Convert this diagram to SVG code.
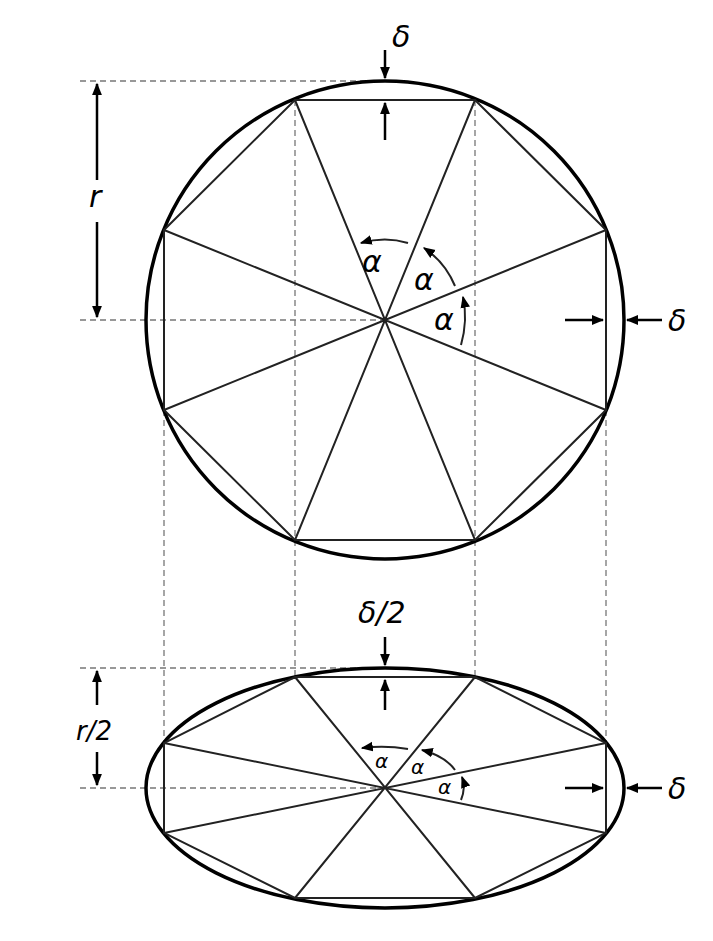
<svg xmlns="http://www.w3.org/2000/svg" width="713" height="941" viewBox="0 0 713 941">
<style>
.d{stroke:#777;stroke-width:1.3;stroke-dasharray:6,4;fill:none}
.l{stroke:#222;stroke-width:2;fill:none}
.o{stroke:#000;stroke-width:3.5;fill:none}
.a{stroke:#000;stroke-width:2.5;fill:none}
.t{font-family:"DejaVu Sans",sans-serif;font-style:italic;fill:#000}
</style>
<defs>
<marker id="ah" viewBox="0 0 10 10" refX="9" refY="5" markerWidth="5" markerHeight="5" orient="auto-start-reverse" markerUnits="strokeWidth"><path d="M0,1 L10,5 L0,9 z" fill="#000"/></marker>
<marker id="sh" viewBox="0 0 10 10" refX="9" refY="5" markerWidth="6" markerHeight="6" orient="auto" markerUnits="strokeWidth"><path d="M0,1 L10,5 L0,9 z" fill="#000"/></marker>
</defs>
<g id="guides">
<line class="d" x1="80" y1="81" x2="385" y2="81"/>
<line class="d" x1="80" y1="320" x2="385" y2="320"/>
<line class="d" x1="80" y1="668" x2="385" y2="668"/>
<line class="d" x1="80" y1="788" x2="385" y2="788"/>
<line class="d" x1="164" y1="230" x2="164" y2="743"/>
<line class="d" x1="295" y1="100" x2="295" y2="677"/>
<line class="d" x1="475" y1="100" x2="475" y2="677"/>
<line class="d" x1="606" y1="230" x2="606" y2="743"/>
</g>
<g id="circle">
<circle class="o" cx="385" cy="320" r="239"/>
<polygon class="l" points="295,100 475,100 606,230 606,410 475,540 295,540 164,410 164,230"/>
<path class="l" d="M295,100 L475,540 M475,100 L295,540 M164,230 L606,410 M606,230 L164,410"/>
</g>
<g id="ellipse">
<ellipse class="o" cx="385" cy="788" rx="239" ry="120"/>
<polygon class="l" points="295,677 475,677 606,743 606,833 475,898 295,898 164,833 164,743"/>
<path class="l" d="M295,677 L475,898 M475,677 L295,898 M164,743 L606,833 M606,743 L164,833"/>
</g>
<g id="connectors">
<line class="a" x1="97" y1="180" x2="97" y2="84" marker-end="url(#ah)"/>
<line class="a" x1="97" y1="222" x2="97" y2="317" marker-end="url(#ah)"/>
<line class="a" x1="385" y1="50" x2="385" y2="78" marker-end="url(#ah)"/>
<line class="a" x1="385" y1="140" x2="385" y2="103" marker-end="url(#ah)"/>
<line class="a" x1="565" y1="320" x2="603" y2="320" marker-end="url(#ah)"/>
<line class="a" x1="662" y1="320" x2="627" y2="320" marker-end="url(#ah)"/>
<line class="a" x1="97" y1="705" x2="97" y2="671" marker-end="url(#ah)"/>
<line class="a" x1="97" y1="752" x2="97" y2="785" marker-end="url(#ah)"/>
<line class="a" x1="385" y1="637" x2="385" y2="665" marker-end="url(#ah)"/>
<line class="a" x1="385" y1="710" x2="385" y2="680" marker-end="url(#ah)"/>
<line class="a" x1="565" y1="788" x2="603" y2="788" marker-end="url(#ah)"/>
<line class="a" x1="662" y1="788" x2="627" y2="788" marker-end="url(#ah)"/>
<path class="l" d="M461,345 Q468,320 463,297" marker-end="url(#sh)"/>
<path class="l" d="M455,286 Q445,262 424,248" marker-end="url(#sh)"/>
<path class="l" d="M408,243 Q385,236 361,243" marker-end="url(#sh)"/>
<path class="l" d="M461,800 Q466,788 462,777" marker-end="url(#sh)"/>
<path class="l" d="M455,770 Q445,756 422,750" marker-end="url(#sh)"/>
<path class="l" d="M408,749 Q385,745 362,748" marker-end="url(#sh)"/>
</g>
<g id="labels">
<text class="t" x="392" y="47" font-size="30">δ</text>
<text class="t" x="668" y="331" font-size="30">δ</text>
<text class="t" x="89" y="207" font-size="30">r</text>
<text class="t" x="362" y="272" font-size="30">α</text>
<text class="t" x="414" y="290" font-size="30">α</text>
<text class="t" x="434" y="330" font-size="30">α</text>
<text class="t" x="358" y="623" font-size="30">δ/2</text>
<text class="t" x="668" y="799" font-size="30">δ</text>
<text class="t" x="76" y="740" font-size="26">r/2</text>
<text class="t" x="375" y="768" font-size="20">α</text>
<text class="t" x="411" y="774" font-size="20">α</text>
<text class="t" x="438" y="794" font-size="20">α</text>
</g>
</svg>
